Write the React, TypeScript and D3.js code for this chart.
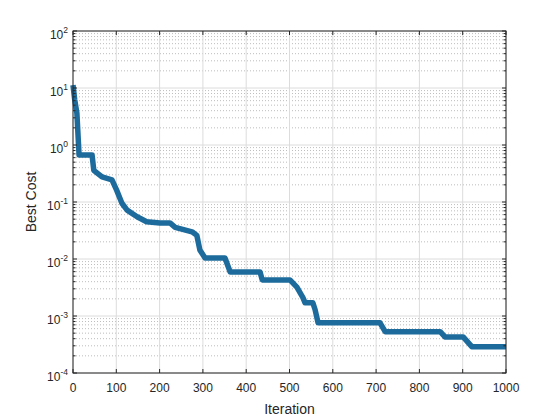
import * as d3 from "d3"

// iteration -> best cost
const iterations = [0, 4, 9, 14, 44, 48, 67, 90, 101, 113, 125, 148, 170, 201, 224, 236, 275, 286, 293, 305, 351, 363, 432, 437, 501, 517, 531, 536, 554, 559, 566, 709, 721, 848, 859, 901, 921, 1000]
const bestCost = [11.2, 6.2, 3.6, 0.67, 0.67, 0.36, 0.275, 0.245, 0.16, 0.095, 0.072, 0.055, 0.045, 0.043, 0.043, 0.036, 0.03, 0.026, 0.0144, 0.0104, 0.0104, 0.0059, 0.0059, 0.0043, 0.0043, 0.0032, 0.0021, 0.0017, 0.0017, 0.0013, 0.00076, 0.00076, 0.00053, 0.00053, 0.00043, 0.00043, 0.00029, 0.00029]

const xTicks = [0, 100, 200, 300, 400, 500, 600, 700, 800, 900, 1000]
const yExponents = [-4, -3, -2, -1, 0, 1, 2]

const width = 560
const height = 420
const margin = { top: 31, right: 54, bottom: 47, left: 73 }
const font = "'Liberation Sans', Arial, Helvetica, sans-serif"
const axisColor = "#262626"

export default function App() {
  const x = d3.scaleLinear().domain([0, 1000]).range([margin.left, width - margin.right])
  const y = d3.scaleLog().domain([1e-4, 1e2]).range([height - margin.bottom, margin.top])

  const points = iterations.map((it, i) => ({ it, cost: bestCost[i] }))
  const line = d3.line<{ it: number; cost: number }>()
    .x(d => x(d.it))
    .y(d => y(d.cost))

  const minorTicks: number[] = []
  yExponents.slice(0, -1).forEach(e => {
    for (let k = 2; k <= 9; k++) minorTicks.push(k * Math.pow(10, e))
  })

  const x0 = margin.left
  const x1 = width - margin.right
  const y0 = height - margin.bottom
  const y1 = margin.top

  return (
    <svg width={width} height={height} style={{ position: "absolute", left: 0, top: 0, background: "#fff" }}>
      {/* minor grid */}
      {minorTicks.map(v => (
        <line key={"mg" + v} x1={x0} x2={x1} y1={y(v)} y2={y(v)} stroke="#bdbdbd" strokeWidth={1} strokeDasharray="1,2" />
      ))}
      {/* major grid */}
      {yExponents.map(e => (
        <line key={"gy" + e} x1={x0} x2={x1} y1={y(Math.pow(10, e))} y2={y(Math.pow(10, e))} stroke="#dcdcdc" strokeWidth={1} />
      ))}
      {xTicks.map(t => (
        <line key={"gx" + t} x1={x(t)} x2={x(t)} y1={y0} y2={y1} stroke="#dcdcdc" strokeWidth={1} />
      ))}

      {/* curve */}
      <path d={line(points) ?? ""} fill="none" stroke="#1c6b9c" strokeWidth={5.5} strokeLinejoin="round" />

      {/* box */}
      <rect x={x0} y={y1} width={x1 - x0} height={y0 - y1} fill="none" stroke={axisColor} strokeWidth={1} />

      {/* ticks */}
      {xTicks.map(t => (
        <g key={"tx" + t}>
          <line x1={x(t)} x2={x(t)} y1={y0} y2={y0 - 4} stroke={axisColor} />
          <line x1={x(t)} x2={x(t)} y1={y1} y2={y1 + 4} stroke={axisColor} />
          <text x={x(t)} y={y0 + 19} textAnchor="middle" fontFamily={font} fontSize={12} fill={axisColor}>{t}</text>
        </g>
      ))}
      {yExponents.map(e => {
        const yy = y(Math.pow(10, e))
        return (
          <g key={"ty" + e}>
            <line x1={x0} x2={x0 + 4} y1={yy} y2={yy} stroke={axisColor} />
            <line x1={x1} x2={x1 - 4} y1={yy} y2={yy} stroke={axisColor} />
            <text x={x0 - 5} y={yy + 8} textAnchor="end" fontFamily={font} fontSize={12} fill={axisColor}>
              10<tspan dy={-6} fontSize={8.5}>{e < 0 ? "-" + Math.abs(e) : e}</tspan>
            </text>
          </g>
        )
      })}
      {minorTicks.map(v => (
        <g key={"mt" + v}>
          <line x1={x0} x2={x0 + 2.5} y1={y(v)} y2={y(v)} stroke={axisColor} />
          <line x1={x1} x2={x1 - 2.5} y1={y(v)} y2={y(v)} stroke={axisColor} />
        </g>
      ))}

      {/* axis labels */}
      <text x={(x0 + x1) / 2} y={414} textAnchor="middle" fontFamily={font} fontSize={14} fill={axisColor}>Iteration</text>
      <text transform={`translate(36,${(y0 + y1) / 2}) rotate(-90)`} textAnchor="middle" fontFamily={font} fontSize={14} fill={axisColor}>Best Cost</text>
    </svg>
  )
}
